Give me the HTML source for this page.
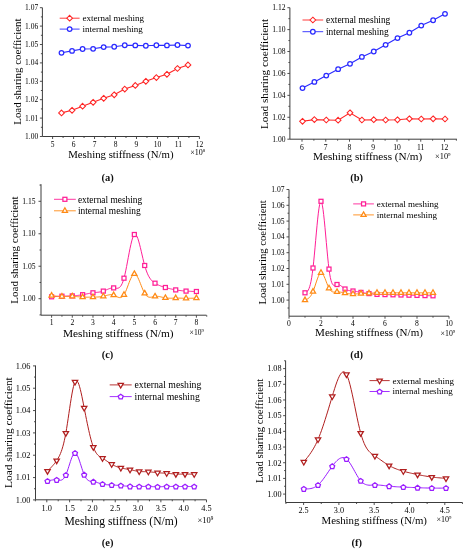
<!DOCTYPE html>
<html><head><meta charset="utf-8"><style>
html,body{margin:0;padding:0;background:#fff;}
body{width:468px;height:550px;overflow:hidden;}
svg{display:block;font-family:"Liberation Serif", serif;-webkit-font-smoothing:antialiased;will-change:transform;}
</style></head><body>
<svg width="468" height="550" viewBox="0 0 468 550">
<rect width="468" height="550" fill="#fff"/>
<path d="M42.4 7.7V136.5H199.4" fill="none" stroke="#3c3c3c" stroke-width="1"/>
<path d="M39.9 136.5H42.4M39.9 118.1H42.4M39.9 99.7H42.4M39.9 81.3H42.4M39.9 62.9H42.4M39.9 44.5H42.4M39.9 26.1H42.4M39.9 7.7H42.4M40.9 127.3H42.4M40.9 108.9H42.4M40.9 90.5H42.4M40.9 72.1H42.4M40.9 53.7H42.4M40.9 35.3H42.4M40.9 16.9H42.4M52.6 136.5V139M73.57 136.5V139M94.54 136.5V139M115.51 136.5V139M136.49 136.5V139M157.46 136.5V139M178.43 136.5V139M199.4 136.5V139M63.09 136.5V138M84.06 136.5V138M105.03 136.5V138M126 136.5V138M146.97 136.5V138M167.94 136.5V138M188.91 136.5V138" fill="none" stroke="#3c3c3c" stroke-width="0.9"/>
<text x="38.2" y="139.05" font-size="7.5" text-anchor="end" font-weight="normal" fill="#000" >1.00</text>
<text x="38.2" y="120.65" font-size="7.5" text-anchor="end" font-weight="normal" fill="#000" >1.01</text>
<text x="38.2" y="102.25" font-size="7.5" text-anchor="end" font-weight="normal" fill="#000" >1.02</text>
<text x="38.2" y="83.85" font-size="7.5" text-anchor="end" font-weight="normal" fill="#000" >1.03</text>
<text x="38.2" y="65.45" font-size="7.5" text-anchor="end" font-weight="normal" fill="#000" >1.04</text>
<text x="38.2" y="47.05" font-size="7.5" text-anchor="end" font-weight="normal" fill="#000" >1.05</text>
<text x="38.2" y="28.65" font-size="7.5" text-anchor="end" font-weight="normal" fill="#000" >1.06</text>
<text x="38.2" y="10.25" font-size="7.5" text-anchor="end" font-weight="normal" fill="#000" >1.07</text>
<text x="52.6" y="146.7" font-size="7.5" text-anchor="middle" font-weight="normal" fill="#000" >5</text>
<text x="73.57" y="146.7" font-size="7.5" text-anchor="middle" font-weight="normal" fill="#000" >6</text>
<text x="94.54" y="146.7" font-size="7.5" text-anchor="middle" font-weight="normal" fill="#000" >7</text>
<text x="115.51" y="146.7" font-size="7.5" text-anchor="middle" font-weight="normal" fill="#000" >8</text>
<text x="136.49" y="146.7" font-size="7.5" text-anchor="middle" font-weight="normal" fill="#000" >9</text>
<text x="157.46" y="146.7" font-size="7.5" text-anchor="middle" font-weight="normal" fill="#000" >10</text>
<text x="178.43" y="146.7" font-size="7.5" text-anchor="middle" font-weight="normal" fill="#000" >11</text>
<text x="199.4" y="146.7" font-size="7.5" text-anchor="middle" font-weight="normal" fill="#000" >12</text>
<path d="M61.5 112.9L72.04 110.3L82.58 106.2L93.12 102.3L103.67 98.3L114.21 94.8L124.75 89.1L135.29 85.4L145.83 81.3L156.38 77.6L166.92 74.3L177.46 68.5L188 64.9" fill="none" stroke="#ff2424" stroke-width="1.1"/>
<path d="M61.5 110.05L64.35 112.9L61.5 115.75L58.65 112.9Z" fill="#fff" stroke="#ff2424" stroke-width="1.05"/>
<path d="M72.04 107.45L74.89 110.3L72.04 113.15L69.19 110.3Z" fill="#fff" stroke="#ff2424" stroke-width="1.05"/>
<path d="M82.58 103.35L85.43 106.2L82.58 109.05L79.73 106.2Z" fill="#fff" stroke="#ff2424" stroke-width="1.05"/>
<path d="M93.12 99.45L95.97 102.3L93.12 105.15L90.28 102.3Z" fill="#fff" stroke="#ff2424" stroke-width="1.05"/>
<path d="M103.67 95.45L106.52 98.3L103.67 101.15L100.82 98.3Z" fill="#fff" stroke="#ff2424" stroke-width="1.05"/>
<path d="M114.21 91.95L117.06 94.8L114.21 97.65L111.36 94.8Z" fill="#fff" stroke="#ff2424" stroke-width="1.05"/>
<path d="M124.75 86.25L127.6 89.1L124.75 91.95L121.9 89.1Z" fill="#fff" stroke="#ff2424" stroke-width="1.05"/>
<path d="M135.29 82.55L138.14 85.4L135.29 88.25L132.44 85.4Z" fill="#fff" stroke="#ff2424" stroke-width="1.05"/>
<path d="M145.83 78.45L148.68 81.3L145.83 84.15L142.98 81.3Z" fill="#fff" stroke="#ff2424" stroke-width="1.05"/>
<path d="M156.38 74.75L159.22 77.6L156.38 80.45L153.53 77.6Z" fill="#fff" stroke="#ff2424" stroke-width="1.05"/>
<path d="M166.92 71.45L169.77 74.3L166.92 77.15L164.07 74.3Z" fill="#fff" stroke="#ff2424" stroke-width="1.05"/>
<path d="M177.46 65.65L180.31 68.5L177.46 71.35L174.61 68.5Z" fill="#fff" stroke="#ff2424" stroke-width="1.05"/>
<path d="M188 62.05L190.85 64.9L188 67.75L185.15 64.9Z" fill="#fff" stroke="#ff2424" stroke-width="1.05"/>
<path d="M61.5 52.8L72.04 50.9L82.58 49L93.12 48.8L103.67 47.1L114.21 46.75L124.75 45.2L135.29 45.4L145.83 45.7L156.38 45.2L166.92 45.4L177.46 45L188 45.6" fill="none" stroke="#2a2aff" stroke-width="1.1"/>
<circle cx="61.5" cy="52.8" r="2.3" fill="#fff" stroke="#2a2aff" stroke-width="1.25"/>
<circle cx="72.04" cy="50.9" r="2.3" fill="#fff" stroke="#2a2aff" stroke-width="1.25"/>
<circle cx="82.58" cy="49" r="2.3" fill="#fff" stroke="#2a2aff" stroke-width="1.25"/>
<circle cx="93.12" cy="48.8" r="2.3" fill="#fff" stroke="#2a2aff" stroke-width="1.25"/>
<circle cx="103.67" cy="47.1" r="2.3" fill="#fff" stroke="#2a2aff" stroke-width="1.25"/>
<circle cx="114.21" cy="46.75" r="2.3" fill="#fff" stroke="#2a2aff" stroke-width="1.25"/>
<circle cx="124.75" cy="45.2" r="2.3" fill="#fff" stroke="#2a2aff" stroke-width="1.25"/>
<circle cx="135.29" cy="45.4" r="2.3" fill="#fff" stroke="#2a2aff" stroke-width="1.25"/>
<circle cx="145.83" cy="45.7" r="2.3" fill="#fff" stroke="#2a2aff" stroke-width="1.25"/>
<circle cx="156.38" cy="45.2" r="2.3" fill="#fff" stroke="#2a2aff" stroke-width="1.25"/>
<circle cx="166.92" cy="45.4" r="2.3" fill="#fff" stroke="#2a2aff" stroke-width="1.25"/>
<circle cx="177.46" cy="45" r="2.3" fill="#fff" stroke="#2a2aff" stroke-width="1.25"/>
<circle cx="188" cy="45.6" r="2.3" fill="#fff" stroke="#2a2aff" stroke-width="1.25"/>
<path d="M59.7 18.2H79.6" stroke="#ff2424" stroke-width="0.9"/>
<path d="M69.65 15.35L72.5 18.2L69.65 21.05L66.8 18.2Z" fill="#fff" stroke="#ff2424" stroke-width="1.05"/>
<text x="82.4" y="21.3" font-size="9" text-anchor="start" font-weight="normal" fill="#000" >external meshing</text>
<path d="M59.7 29.1H79.6" stroke="#2a2aff" stroke-width="0.9"/>
<circle cx="69.65" cy="29.1" r="2.3" fill="#fff" stroke="#2a2aff" stroke-width="1.25"/>
<text x="82.4" y="32.4" font-size="9" text-anchor="start" font-weight="normal" fill="#000" >internal meshing</text>
<text x="120.85" y="157.6" font-size="10.8" text-anchor="middle" font-weight="normal" fill="#000" >Meshing stiffness (N/m)</text>
<text transform="translate(20.7 71.6) rotate(-90)" x="0" y="0" font-size="10.9" text-anchor="middle" fill="#000">Load sharing coefficient</text>
<text x="190.3" y="154.6" font-size="8.0" fill="#000">×10<tspan font-size="4.8" dy="-2.88">8</tspan></text>
<text x="107.65" y="181" font-size="10.5" text-anchor="middle" font-weight="bold" fill="#111" >(a)</text>
<path d="M289.9 7.7V139.2H456.9" fill="none" stroke="#3c3c3c" stroke-width="1"/>
<path d="M287.4 139.2H289.9M287.4 117.28H289.9M287.4 95.37H289.9M287.4 73.45H289.9M287.4 51.53H289.9M287.4 29.62H289.9M287.4 7.7H289.9M288.4 128.24H289.9M288.4 106.32H289.9M288.4 84.41H289.9M288.4 62.49H289.9M288.4 40.57H289.9M288.4 18.66H289.9M302 139.2V141.7M325.75 139.2V141.7M349.5 139.2V141.7M373.25 139.2V141.7M397 139.2V141.7M420.75 139.2V141.7M444.5 139.2V141.7M313.88 139.2V140.7M337.62 139.2V140.7M361.38 139.2V140.7M385.12 139.2V140.7M408.88 139.2V140.7M432.62 139.2V140.7M456.38 139.2V140.7" fill="none" stroke="#3c3c3c" stroke-width="0.9"/>
<text x="285.5" y="141.78" font-size="7.6" text-anchor="end" font-weight="normal" fill="#000" >1.00</text>
<text x="285.5" y="119.87" font-size="7.6" text-anchor="end" font-weight="normal" fill="#000" >1.02</text>
<text x="285.5" y="97.95" font-size="7.6" text-anchor="end" font-weight="normal" fill="#000" >1.04</text>
<text x="285.5" y="76.03" font-size="7.6" text-anchor="end" font-weight="normal" fill="#000" >1.06</text>
<text x="285.5" y="54.12" font-size="7.6" text-anchor="end" font-weight="normal" fill="#000" >1.08</text>
<text x="285.5" y="32.2" font-size="7.6" text-anchor="end" font-weight="normal" fill="#000" >1.10</text>
<text x="285.5" y="10.28" font-size="7.6" text-anchor="end" font-weight="normal" fill="#000" >1.12</text>
<text x="302" y="149.9" font-size="7.6" text-anchor="middle" font-weight="normal" fill="#000" >6</text>
<text x="325.75" y="149.9" font-size="7.6" text-anchor="middle" font-weight="normal" fill="#000" >7</text>
<text x="349.5" y="149.9" font-size="7.6" text-anchor="middle" font-weight="normal" fill="#000" >8</text>
<text x="373.25" y="149.9" font-size="7.6" text-anchor="middle" font-weight="normal" fill="#000" >9</text>
<text x="397" y="149.9" font-size="7.6" text-anchor="middle" font-weight="normal" fill="#000" >10</text>
<text x="420.75" y="149.9" font-size="7.6" text-anchor="middle" font-weight="normal" fill="#000" >11</text>
<text x="444.5" y="149.9" font-size="7.6" text-anchor="middle" font-weight="normal" fill="#000" >12</text>
<path d="M302.5 121.3L314.38 119.6L326.25 120L338.12 120.2L350 112.8L361.88 120L373.75 119.7L385.62 120L397.5 119.8L409.38 118.8L421.25 119L433.12 118.8L445 119" fill="none" stroke="#ff2424" stroke-width="1.1"/>
<path d="M302.5 118.45L305.35 121.3L302.5 124.15L299.65 121.3Z" fill="#fff" stroke="#ff2424" stroke-width="1.05"/>
<path d="M314.38 116.75L317.23 119.6L314.38 122.45L311.52 119.6Z" fill="#fff" stroke="#ff2424" stroke-width="1.05"/>
<path d="M326.25 117.15L329.1 120L326.25 122.85L323.4 120Z" fill="#fff" stroke="#ff2424" stroke-width="1.05"/>
<path d="M338.12 117.35L340.98 120.2L338.12 123.05L335.27 120.2Z" fill="#fff" stroke="#ff2424" stroke-width="1.05"/>
<path d="M350 109.95L352.85 112.8L350 115.65L347.15 112.8Z" fill="#fff" stroke="#ff2424" stroke-width="1.05"/>
<path d="M361.88 117.15L364.73 120L361.88 122.85L359.02 120Z" fill="#fff" stroke="#ff2424" stroke-width="1.05"/>
<path d="M373.75 116.85L376.6 119.7L373.75 122.55L370.9 119.7Z" fill="#fff" stroke="#ff2424" stroke-width="1.05"/>
<path d="M385.62 117.15L388.48 120L385.62 122.85L382.77 120Z" fill="#fff" stroke="#ff2424" stroke-width="1.05"/>
<path d="M397.5 116.95L400.35 119.8L397.5 122.65L394.65 119.8Z" fill="#fff" stroke="#ff2424" stroke-width="1.05"/>
<path d="M409.38 115.95L412.23 118.8L409.38 121.65L406.52 118.8Z" fill="#fff" stroke="#ff2424" stroke-width="1.05"/>
<path d="M421.25 116.15L424.1 119L421.25 121.85L418.4 119Z" fill="#fff" stroke="#ff2424" stroke-width="1.05"/>
<path d="M433.12 115.95L435.98 118.8L433.12 121.65L430.27 118.8Z" fill="#fff" stroke="#ff2424" stroke-width="1.05"/>
<path d="M445 116.15L447.85 119L445 121.85L442.15 119Z" fill="#fff" stroke="#ff2424" stroke-width="1.05"/>
<path d="M302.5 88.1L314.38 81.9L326.25 75.6L338.12 69.2L350 63.8L361.88 56.9L373.75 51.5L385.62 44.8L397.5 38.1L409.38 32.7L421.25 25.6L433.12 20.2L445 13.8" fill="none" stroke="#2a2aff" stroke-width="1.1"/>
<circle cx="302.5" cy="88.1" r="2.3" fill="#fff" stroke="#2a2aff" stroke-width="1.25"/>
<circle cx="314.38" cy="81.9" r="2.3" fill="#fff" stroke="#2a2aff" stroke-width="1.25"/>
<circle cx="326.25" cy="75.6" r="2.3" fill="#fff" stroke="#2a2aff" stroke-width="1.25"/>
<circle cx="338.12" cy="69.2" r="2.3" fill="#fff" stroke="#2a2aff" stroke-width="1.25"/>
<circle cx="350" cy="63.8" r="2.3" fill="#fff" stroke="#2a2aff" stroke-width="1.25"/>
<circle cx="361.88" cy="56.9" r="2.3" fill="#fff" stroke="#2a2aff" stroke-width="1.25"/>
<circle cx="373.75" cy="51.5" r="2.3" fill="#fff" stroke="#2a2aff" stroke-width="1.25"/>
<circle cx="385.62" cy="44.8" r="2.3" fill="#fff" stroke="#2a2aff" stroke-width="1.25"/>
<circle cx="397.5" cy="38.1" r="2.3" fill="#fff" stroke="#2a2aff" stroke-width="1.25"/>
<circle cx="409.38" cy="32.7" r="2.3" fill="#fff" stroke="#2a2aff" stroke-width="1.25"/>
<circle cx="421.25" cy="25.6" r="2.3" fill="#fff" stroke="#2a2aff" stroke-width="1.25"/>
<circle cx="433.12" cy="20.2" r="2.3" fill="#fff" stroke="#2a2aff" stroke-width="1.25"/>
<circle cx="445" cy="13.8" r="2.3" fill="#fff" stroke="#2a2aff" stroke-width="1.25"/>
<path d="M302.5 20H323.2" stroke="#ff2424" stroke-width="0.9"/>
<path d="M312.85 17.15L315.7 20L312.85 22.85L310 20Z" fill="#fff" stroke="#ff2424" stroke-width="1.05"/>
<text x="326" y="23.3" font-size="9.4" text-anchor="start" font-weight="normal" fill="#000" >external meshing</text>
<path d="M302.5 31.7H323.2" stroke="#2a2aff" stroke-width="0.9"/>
<circle cx="312.85" cy="31.7" r="2.3" fill="#fff" stroke="#2a2aff" stroke-width="1.25"/>
<text x="326" y="34.8" font-size="9.4" text-anchor="start" font-weight="normal" fill="#000" >internal meshing</text>
<text x="367.6" y="160.1" font-size="11.2" text-anchor="middle" font-weight="normal" fill="#000" >Meshing stiffness (N/m)</text>
<text transform="translate(267.7 74) rotate(-90)" x="0" y="0" font-size="11.3" text-anchor="middle" fill="#000">Load sharing coefficient</text>
<text x="435.1" y="158.9" font-size="8.3" fill="#000">×10<tspan font-size="4.98" dy="-2.99">9</tspan></text>
<text x="356.7" y="181.1" font-size="10.5" text-anchor="middle" font-weight="bold" fill="#111" >(b)</text>
<path d="M41 184.2V315.2H206.5" fill="none" stroke="#3c3c3c" stroke-width="1"/>
<path d="M38.5 298.7H41M38.5 266.23H41M38.5 233.77H41M38.5 201.3H41M39.5 314.93H41M39.5 282.47H41M39.5 250H41M39.5 217.53H41M39.5 185.07H41M51.6 315.2V317.7M72.29 315.2V317.7M92.97 315.2V317.7M113.66 315.2V317.7M134.34 315.2V317.7M155.03 315.2V317.7M175.71 315.2V317.7M196.4 315.2V317.7M61.94 315.2V316.7M82.63 315.2V316.7M103.31 315.2V316.7M124 315.2V316.7M144.69 315.2V316.7M165.37 315.2V316.7M186.06 315.2V316.7M206.74 315.2V316.7" fill="none" stroke="#3c3c3c" stroke-width="0.9"/>
<text x="35.5" y="301.28" font-size="7.6" text-anchor="end" font-weight="normal" fill="#000" >1.00</text>
<text x="35.5" y="268.82" font-size="7.6" text-anchor="end" font-weight="normal" fill="#000" >1.05</text>
<text x="35.5" y="236.35" font-size="7.6" text-anchor="end" font-weight="normal" fill="#000" >1.10</text>
<text x="35.5" y="203.88" font-size="7.6" text-anchor="end" font-weight="normal" fill="#000" >1.15</text>
<text x="51.6" y="325.4" font-size="7.6" text-anchor="middle" font-weight="normal" fill="#000" >1</text>
<text x="72.29" y="325.4" font-size="7.6" text-anchor="middle" font-weight="normal" fill="#000" >2</text>
<text x="92.97" y="325.4" font-size="7.6" text-anchor="middle" font-weight="normal" fill="#000" >3</text>
<text x="113.66" y="325.4" font-size="7.6" text-anchor="middle" font-weight="normal" fill="#000" >4</text>
<text x="134.34" y="325.4" font-size="7.6" text-anchor="middle" font-weight="normal" fill="#000" >5</text>
<text x="155.03" y="325.4" font-size="7.6" text-anchor="middle" font-weight="normal" fill="#000" >6</text>
<text x="175.71" y="325.4" font-size="7.6" text-anchor="middle" font-weight="normal" fill="#000" >7</text>
<text x="196.4" y="325.4" font-size="7.6" text-anchor="middle" font-weight="normal" fill="#000" >8</text>
<path d="M51.6 296.8L52.46 296.74L53.32 296.68L54.19 296.62L55.05 296.56L55.91 296.51L56.77 296.45L57.63 296.4L58.5 296.35L59.36 296.31L60.22 296.27L61.08 296.23L61.94 296.2L62.8 296.17L63.67 296.15L64.53 296.13L65.39 296.11L66.25 296.1L67.11 296.08L67.98 296.06L68.84 296.04L69.7 296.01L70.56 295.98L71.42 295.94L72.29 295.9L73.15 295.85L74.01 295.79L74.87 295.72L75.73 295.64L76.6 295.55L77.46 295.46L78.32 295.35L79.18 295.24L80.04 295.12L80.9 294.99L81.77 294.85L82.63 294.7L83.49 294.54L84.35 294.38L85.21 294.21L86.08 294.04L86.94 293.86L87.8 293.69L88.66 293.52L89.52 293.36L90.39 293.2L91.25 293.06L92.11 292.92L92.97 292.8L93.83 292.69L94.7 292.6L95.56 292.51L96.42 292.42L97.28 292.32L98.14 292.22L99 292.1L99.87 291.96L100.73 291.79L101.59 291.6L102.45 291.37L103.31 291.1L104.18 290.79L105.04 290.44L105.9 290.08L106.76 289.7L107.62 289.33L108.49 288.98L109.35 288.65L110.21 288.37L111.07 288.14L111.93 287.98L112.8 287.89L113.66 287.9L114.52 288L115.38 288.14L116.24 288.25L117.1 288.29L117.97 288.18L118.83 287.87L119.69 287.29L120.55 286.38L121.41 285.07L122.28 283.32L123.14 281.05L124 278.2L124.86 274.75L125.72 270.8L126.59 266.49L127.45 261.95L128.31 257.34L129.17 252.79L130.03 248.43L130.9 244.41L131.76 240.87L132.62 237.94L133.48 235.77L134.34 234.5L135.2 234.22L136.07 234.85L136.93 236.28L137.79 238.39L138.65 241.06L139.51 244.17L140.38 247.61L141.24 251.25L142.1 254.98L142.96 258.67L143.82 262.22L144.69 265.5L145.55 268.42L146.41 270.97L147.27 273.2L148.13 275.13L149 276.79L149.86 278.2L150.72 279.4L151.58 280.42L152.44 281.27L153.3 282.01L154.17 282.64L155.03 283.2L155.89 283.72L156.75 284.2L157.61 284.64L158.48 285.05L159.34 285.43L160.2 285.78L161.06 286.11L161.92 286.42L162.79 286.71L163.65 286.99L164.51 287.25L165.37 287.5L166.23 287.74L167.1 287.98L167.96 288.21L168.82 288.43L169.68 288.64L170.54 288.85L171.4 289.04L172.27 289.23L173.13 289.41L173.99 289.58L174.85 289.75L175.71 289.9L176.58 290.04L177.44 290.18L178.3 290.31L179.16 290.42L180.02 290.53L180.89 290.64L181.75 290.73L182.61 290.82L183.47 290.9L184.33 290.97L185.2 291.04L186.06 291.1L186.92 291.15L187.78 291.2L188.64 291.25L189.5 291.29L190.37 291.32L191.23 291.35L192.09 291.38L192.95 291.41L193.81 291.43L194.68 291.46L195.54 291.48L196.4 291.5" fill="none" stroke="#ff1f96" stroke-width="1.0" stroke-linejoin="round"/>
<rect x="49.6" y="294.8" width="4" height="4" fill="#fff" stroke="#ff1f96" stroke-width="1.25"/>
<rect x="59.94" y="294.2" width="4" height="4" fill="#fff" stroke="#ff1f96" stroke-width="1.25"/>
<rect x="70.29" y="293.9" width="4" height="4" fill="#fff" stroke="#ff1f96" stroke-width="1.25"/>
<rect x="80.63" y="292.7" width="4" height="4" fill="#fff" stroke="#ff1f96" stroke-width="1.25"/>
<rect x="90.97" y="290.8" width="4" height="4" fill="#fff" stroke="#ff1f96" stroke-width="1.25"/>
<rect x="101.31" y="289.1" width="4" height="4" fill="#fff" stroke="#ff1f96" stroke-width="1.25"/>
<rect x="111.66" y="285.9" width="4" height="4" fill="#fff" stroke="#ff1f96" stroke-width="1.25"/>
<rect x="122" y="276.2" width="4" height="4" fill="#fff" stroke="#ff1f96" stroke-width="1.25"/>
<rect x="132.34" y="232.5" width="4" height="4" fill="#fff" stroke="#ff1f96" stroke-width="1.25"/>
<rect x="142.69" y="263.5" width="4" height="4" fill="#fff" stroke="#ff1f96" stroke-width="1.25"/>
<rect x="153.03" y="281.2" width="4" height="4" fill="#fff" stroke="#ff1f96" stroke-width="1.25"/>
<rect x="163.37" y="285.5" width="4" height="4" fill="#fff" stroke="#ff1f96" stroke-width="1.25"/>
<rect x="173.71" y="287.9" width="4" height="4" fill="#fff" stroke="#ff1f96" stroke-width="1.25"/>
<rect x="184.06" y="289.1" width="4" height="4" fill="#fff" stroke="#ff1f96" stroke-width="1.25"/>
<rect x="194.4" y="289.5" width="4" height="4" fill="#fff" stroke="#ff1f96" stroke-width="1.25"/>
<path d="M51.6 295.6L52.46 295.71L53.32 295.81L54.19 295.91L55.05 296.01L55.91 296.11L56.77 296.19L57.63 296.27L58.5 296.34L59.36 296.4L60.22 296.45L61.08 296.48L61.94 296.5L62.8 296.5L63.67 296.49L64.53 296.48L65.39 296.45L66.25 296.42L67.11 296.38L67.98 296.35L68.84 296.32L69.7 296.3L70.56 296.29L71.42 296.29L72.29 296.3L73.15 296.33L74.01 296.38L74.87 296.44L75.73 296.51L76.6 296.58L77.46 296.66L78.32 296.75L79.18 296.83L80.04 296.91L80.9 296.98L81.77 297.05L82.63 297.1L83.49 297.14L84.35 297.17L85.21 297.19L86.08 297.2L86.94 297.2L87.8 297.19L88.66 297.18L89.52 297.16L90.39 297.15L91.25 297.13L92.11 297.11L92.97 297.1L93.83 297.09L94.7 297.08L95.56 297.06L96.42 297.04L97.28 297.02L98.14 296.98L99 296.92L99.87 296.85L100.73 296.75L101.59 296.63L102.45 296.48L103.31 296.3L104.18 296.09L105.04 295.86L105.9 295.61L106.76 295.37L107.62 295.15L108.49 294.96L109.35 294.81L110.21 294.71L111.07 294.67L111.93 294.72L112.8 294.86L113.66 295.1L114.52 295.45L115.38 295.87L116.24 296.33L117.1 296.77L117.97 297.16L118.83 297.46L119.69 297.61L120.55 297.58L121.41 297.33L122.28 296.81L123.14 295.98L124 294.8L124.86 293.24L125.72 291.38L126.59 289.28L127.45 287.04L128.31 284.74L129.17 282.46L130.03 280.28L130.9 278.3L131.76 276.58L132.62 275.22L133.48 274.3L134.34 273.9L135.2 274.08L136.07 274.78L136.93 275.94L137.79 277.46L138.65 279.27L139.51 281.29L140.38 283.44L141.24 285.64L142.1 287.82L142.96 289.89L143.82 291.78L144.69 293.4L145.55 294.7L146.41 295.69L147.27 296.41L148.13 296.89L149 297.16L149.86 297.27L150.72 297.25L151.58 297.14L152.44 296.96L153.3 296.75L154.17 296.55L155.03 296.4L155.89 296.32L156.75 296.31L157.61 296.35L158.48 296.45L159.34 296.59L160.2 296.76L161.06 296.95L161.92 297.16L162.79 297.36L163.65 297.56L164.51 297.74L165.37 297.9L166.23 298.02L167.1 298.11L167.96 298.17L168.82 298.21L169.68 298.23L170.54 298.23L171.4 298.22L172.27 298.19L173.13 298.17L173.99 298.14L174.85 298.12L175.71 298.1L176.58 298.09L177.44 298.09L178.3 298.1L179.16 298.12L180.02 298.14L180.89 298.17L181.75 298.19L182.61 298.22L183.47 298.24L184.33 298.27L185.2 298.29L186.06 298.3L186.92 298.31L187.78 298.31L188.64 298.3L189.5 298.29L190.37 298.28L191.23 298.26L192.09 298.24L192.95 298.22L193.81 298.19L194.68 298.16L195.54 298.13L196.4 298.1" fill="none" stroke="#ff8a14" stroke-width="1.0" stroke-linejoin="round"/>
<path d="M51.6 292.6L54.2 297.15L49 297.15Z" fill="#fff" stroke="#ff8a14" stroke-width="1.25" stroke-linejoin="miter"/>
<path d="M61.94 293.5L64.54 298.05L59.34 298.05Z" fill="#fff" stroke="#ff8a14" stroke-width="1.25" stroke-linejoin="miter"/>
<path d="M72.29 293.3L74.89 297.85L69.69 297.85Z" fill="#fff" stroke="#ff8a14" stroke-width="1.25" stroke-linejoin="miter"/>
<path d="M82.63 294.1L85.23 298.65L80.03 298.65Z" fill="#fff" stroke="#ff8a14" stroke-width="1.25" stroke-linejoin="miter"/>
<path d="M92.97 294.1L95.57 298.65L90.37 298.65Z" fill="#fff" stroke="#ff8a14" stroke-width="1.25" stroke-linejoin="miter"/>
<path d="M103.31 293.3L105.91 297.85L100.71 297.85Z" fill="#fff" stroke="#ff8a14" stroke-width="1.25" stroke-linejoin="miter"/>
<path d="M113.66 292.1L116.26 296.65L111.06 296.65Z" fill="#fff" stroke="#ff8a14" stroke-width="1.25" stroke-linejoin="miter"/>
<path d="M124 291.8L126.6 296.35L121.4 296.35Z" fill="#fff" stroke="#ff8a14" stroke-width="1.25" stroke-linejoin="miter"/>
<path d="M134.34 270.9L136.94 275.45L131.74 275.45Z" fill="#fff" stroke="#ff8a14" stroke-width="1.25" stroke-linejoin="miter"/>
<path d="M144.69 290.4L147.29 294.95L142.09 294.95Z" fill="#fff" stroke="#ff8a14" stroke-width="1.25" stroke-linejoin="miter"/>
<path d="M155.03 293.4L157.63 297.95L152.43 297.95Z" fill="#fff" stroke="#ff8a14" stroke-width="1.25" stroke-linejoin="miter"/>
<path d="M165.37 294.9L167.97 299.45L162.77 299.45Z" fill="#fff" stroke="#ff8a14" stroke-width="1.25" stroke-linejoin="miter"/>
<path d="M175.71 295.1L178.31 299.65L173.11 299.65Z" fill="#fff" stroke="#ff8a14" stroke-width="1.25" stroke-linejoin="miter"/>
<path d="M186.06 295.3L188.66 299.85L183.46 299.85Z" fill="#fff" stroke="#ff8a14" stroke-width="1.25" stroke-linejoin="miter"/>
<path d="M196.4 295.1L199 299.65L193.8 299.65Z" fill="#fff" stroke="#ff8a14" stroke-width="1.25" stroke-linejoin="miter"/>
<path d="M54 199.3H75.8" stroke="#ff1f96" stroke-width="0.9"/>
<rect x="62.9" y="197.3" width="4" height="4" fill="#fff" stroke="#ff1f96" stroke-width="1.25"/>
<text x="77.9" y="202.5" font-size="9.4" text-anchor="start" font-weight="normal" fill="#000" >external meshing</text>
<path d="M54 210.8H75.8" stroke="#ff8a14" stroke-width="0.9"/>
<path d="M64.9 207.8L67.5 212.35L62.3 212.35Z" fill="#fff" stroke="#ff8a14" stroke-width="1.25" stroke-linejoin="miter"/>
<text x="77.9" y="214" font-size="9.4" text-anchor="start" font-weight="normal" fill="#000" >internal meshing</text>
<text x="118.25" y="336.7" font-size="11.35" text-anchor="middle" font-weight="normal" fill="#000" >Meshing stiffness (N/m)</text>
<text transform="translate(17.7 250) rotate(-90)" x="0" y="0" font-size="11.0" text-anchor="middle" fill="#000">Load sharing coefficient</text>
<text x="189.6" y="334.7" font-size="7.6" fill="#000">×10<tspan font-size="4.56" dy="-2.74">9</tspan></text>
<text x="107.5" y="357.6" font-size="10.5" text-anchor="middle" font-weight="bold" fill="#111" >(c)</text>
<path d="M289 189.5V316.2H449" fill="none" stroke="#3c3c3c" stroke-width="1"/>
<path d="M286.5 300.1H289M286.5 284.3H289M286.5 268.5H289M286.5 252.7H289M286.5 236.9H289M286.5 221.1H289M286.5 205.3H289M286.5 189.5H289M287.5 308H289M287.5 292.2H289M287.5 276.4H289M287.5 260.6H289M287.5 244.8H289M287.5 229H289M287.5 213.2H289M287.5 197.4H289M289 316.2V318.7M321 316.2V318.7M353 316.2V318.7M385 316.2V318.7M417 316.2V318.7M449 316.2V318.7M305 316.2V317.7M337 316.2V317.7M369 316.2V317.7M401 316.2V317.7M433 316.2V317.7" fill="none" stroke="#3c3c3c" stroke-width="0.9"/>
<text x="284.6" y="302.68" font-size="7.6" text-anchor="end" font-weight="normal" fill="#000" >1.00</text>
<text x="284.6" y="286.88" font-size="7.6" text-anchor="end" font-weight="normal" fill="#000" >1.01</text>
<text x="284.6" y="271.08" font-size="7.6" text-anchor="end" font-weight="normal" fill="#000" >1.02</text>
<text x="284.6" y="255.28" font-size="7.6" text-anchor="end" font-weight="normal" fill="#000" >1.03</text>
<text x="284.6" y="239.48" font-size="7.6" text-anchor="end" font-weight="normal" fill="#000" >1.04</text>
<text x="284.6" y="223.68" font-size="7.6" text-anchor="end" font-weight="normal" fill="#000" >1.05</text>
<text x="284.6" y="207.88" font-size="7.6" text-anchor="end" font-weight="normal" fill="#000" >1.06</text>
<text x="284.6" y="192.08" font-size="7.6" text-anchor="end" font-weight="normal" fill="#000" >1.07</text>
<text x="289" y="325.9" font-size="7.6" text-anchor="middle" font-weight="normal" fill="#000" >0</text>
<text x="321" y="325.9" font-size="7.6" text-anchor="middle" font-weight="normal" fill="#000" >2</text>
<text x="353" y="325.9" font-size="7.6" text-anchor="middle" font-weight="normal" fill="#000" >4</text>
<text x="385" y="325.9" font-size="7.6" text-anchor="middle" font-weight="normal" fill="#000" >6</text>
<text x="417" y="325.9" font-size="7.6" text-anchor="middle" font-weight="normal" fill="#000" >8</text>
<text x="449" y="325.9" font-size="7.6" text-anchor="middle" font-weight="normal" fill="#000" >10</text>
<path d="M305 292.8L305.67 292.54L306.33 292.21L307 291.72L307.67 291L308.33 289.99L309 288.59L309.67 286.74L310.33 284.36L311 281.37L311.67 277.69L312.33 273.26L313 268L313.67 261.88L314.33 255.08L315 247.84L315.67 240.39L316.33 232.96L317 225.79L317.67 219.12L318.33 213.17L319 208.18L319.67 204.38L320.33 202.01L321 201.3L321.67 202.4L322.33 205.15L323 209.31L323.67 214.62L324.33 220.83L325 227.71L325.67 235.01L326.33 242.47L327 249.86L327.67 256.92L328.33 263.42L329 269.1L329.67 273.78L330.33 277.49L331 280.36L331.67 282.46L332.33 283.92L333 284.83L333.67 285.29L334.33 285.41L335 285.29L335.67 285.02L336.33 284.73L337 284.5L337.67 284.42L338.33 284.49L339 284.69L339.67 285L340.33 285.4L341 285.87L341.67 286.38L342.33 286.93L343 287.48L343.67 288.03L344.33 288.54L345 289L345.67 289.39L346.33 289.72L347 289.99L347.67 290.21L348.33 290.39L349 290.53L349.67 290.64L350.33 290.73L351 290.8L351.67 290.87L352.33 290.93L353 291L353.67 291.08L354.33 291.17L355 291.28L355.67 291.39L356.33 291.51L357 291.63L357.67 291.76L358.33 291.89L359 292.02L359.67 292.15L360.33 292.28L361 292.4L361.67 292.52L362.33 292.64L363 292.75L363.67 292.85L364.33 292.96L365 293.06L365.67 293.15L366.33 293.25L367 293.34L367.67 293.43L368.33 293.51L369 293.6L369.67 293.68L370.33 293.77L371 293.85L371.67 293.92L372.33 294L373 294.07L373.67 294.14L374.33 294.2L375 294.26L375.67 294.31L376.33 294.36L377 294.4L377.67 294.44L378.33 294.47L379 294.49L379.67 294.51L380.33 294.53L381 294.54L381.67 294.55L382.33 294.56L383 294.57L383.67 294.58L384.33 294.59L385 294.6L385.67 294.61L386.33 294.62L387 294.64L387.67 294.65L388.33 294.67L389 294.69L389.67 294.71L390.33 294.73L391 294.74L391.67 294.76L392.33 294.78L393 294.8L393.67 294.82L394.33 294.84L395 294.85L395.67 294.87L396.33 294.89L397 294.9L397.67 294.92L398.33 294.94L399 294.95L399.67 294.97L400.33 294.98L401 295L401.67 295.02L402.33 295.03L403 295.05L403.67 295.07L404.33 295.08L405 295.1L405.67 295.12L406.33 295.13L407 295.15L407.67 295.17L408.33 295.18L409 295.2L409.67 295.22L410.33 295.23L411 295.25L411.67 295.27L412.33 295.28L413 295.3L413.67 295.32L414.33 295.33L415 295.35L415.67 295.37L416.33 295.38L417 295.4L417.67 295.42L418.33 295.43L419 295.45L419.67 295.47L420.33 295.48L421 295.5L421.67 295.52L422.33 295.53L423 295.55L423.67 295.57L424.33 295.58L425 295.6L425.67 295.62L426.33 295.63L427 295.65L427.67 295.67L428.33 295.68L429 295.7L429.67 295.72L430.33 295.73L431 295.75L431.67 295.77L432.33 295.78L433 295.8" fill="none" stroke="#ff1f96" stroke-width="1.0" stroke-linejoin="round"/>
<rect x="303" y="290.8" width="4" height="4" fill="#fff" stroke="#ff1f96" stroke-width="1.25"/>
<rect x="311" y="266" width="4" height="4" fill="#fff" stroke="#ff1f96" stroke-width="1.25"/>
<rect x="319" y="199.3" width="4" height="4" fill="#fff" stroke="#ff1f96" stroke-width="1.25"/>
<rect x="327" y="267.1" width="4" height="4" fill="#fff" stroke="#ff1f96" stroke-width="1.25"/>
<rect x="335" y="282.5" width="4" height="4" fill="#fff" stroke="#ff1f96" stroke-width="1.25"/>
<rect x="343" y="287" width="4" height="4" fill="#fff" stroke="#ff1f96" stroke-width="1.25"/>
<rect x="351" y="289" width="4" height="4" fill="#fff" stroke="#ff1f96" stroke-width="1.25"/>
<rect x="359" y="290.4" width="4" height="4" fill="#fff" stroke="#ff1f96" stroke-width="1.25"/>
<rect x="367" y="291.6" width="4" height="4" fill="#fff" stroke="#ff1f96" stroke-width="1.25"/>
<rect x="375" y="292.4" width="4" height="4" fill="#fff" stroke="#ff1f96" stroke-width="1.25"/>
<rect x="383" y="292.6" width="4" height="4" fill="#fff" stroke="#ff1f96" stroke-width="1.25"/>
<rect x="391" y="292.8" width="4" height="4" fill="#fff" stroke="#ff1f96" stroke-width="1.25"/>
<rect x="399" y="293" width="4" height="4" fill="#fff" stroke="#ff1f96" stroke-width="1.25"/>
<rect x="407" y="293.2" width="4" height="4" fill="#fff" stroke="#ff1f96" stroke-width="1.25"/>
<rect x="415" y="293.4" width="4" height="4" fill="#fff" stroke="#ff1f96" stroke-width="1.25"/>
<rect x="423" y="293.6" width="4" height="4" fill="#fff" stroke="#ff1f96" stroke-width="1.25"/>
<rect x="431" y="293.8" width="4" height="4" fill="#fff" stroke="#ff1f96" stroke-width="1.25"/>
<path d="M305 300.1L305.67 299.84L306.33 299.56L307 299.25L307.67 298.87L308.33 298.43L309 297.89L309.67 297.23L310.33 296.44L311 295.51L311.67 294.4L312.33 293.1L313 291.6L313.67 289.88L314.33 288L315 286.01L315.67 283.96L316.33 281.93L317 279.96L317.67 278.11L318.33 276.45L319 275.03L319.67 273.91L320.33 273.15L321 272.8L321.67 272.91L322.33 273.44L323 274.32L323.67 275.49L324.33 276.9L325 278.48L325.67 280.17L326.33 281.91L327 283.65L327.67 285.32L328.33 286.85L329 288.2L329.67 289.31L330.33 290.2L331 290.88L331.67 291.38L332.33 291.73L333 291.95L333.67 292.07L334.33 292.1L335 292.08L335.67 292.02L336.33 291.95L337 291.9L337.67 291.88L338.33 291.9L339 291.95L339.67 292.02L340.33 292.12L341 292.24L341.67 292.37L342.33 292.51L343 292.66L343.67 292.81L344.33 292.96L345 293.1L345.67 293.23L346.33 293.36L347 293.47L347.67 293.58L348.33 293.67L349 293.75L349.67 293.82L350.33 293.88L351 293.93L351.67 293.96L352.33 293.99L353 294L353.67 294L354.33 293.99L355 293.97L355.67 293.94L356.33 293.9L357 293.86L357.67 293.82L358.33 293.77L359 293.73L359.67 293.68L360.33 293.64L361 293.6L361.67 293.57L362.33 293.54L363 293.51L363.67 293.49L364.33 293.47L365 293.45L365.67 293.43L366.33 293.41L367 293.39L367.67 293.36L368.33 293.33L369 293.3L369.67 293.26L370.33 293.22L371 293.18L371.67 293.13L372.33 293.08L373 293.03L373.67 292.99L374.33 292.94L375 292.9L375.67 292.86L376.33 292.83L377 292.8L377.67 292.78L378.33 292.76L379 292.76L379.67 292.75L380.33 292.75L381 292.75L381.67 292.76L382.33 292.77L383 292.78L383.67 292.78L384.33 292.79L385 292.8L385.67 292.81L386.33 292.81L387 292.81L387.67 292.81L388.33 292.81L389 292.81L389.67 292.81L390.33 292.81L391 292.81L391.67 292.8L392.33 292.8L393 292.8L393.67 292.8L394.33 292.8L395 292.8L395.67 292.8L396.33 292.8L397 292.8L397.67 292.8L398.33 292.8L399 292.8L399.67 292.8L400.33 292.8L401 292.8L401.67 292.8L402.33 292.8L403 292.8L403.67 292.8L404.33 292.8L405 292.8L405.67 292.8L406.33 292.8L407 292.8L407.67 292.8L408.33 292.8L409 292.8L409.67 292.8L410.33 292.8L411 292.8L411.67 292.8L412.33 292.8L413 292.8L413.67 292.8L414.33 292.8L415 292.8L415.67 292.8L416.33 292.8L417 292.8L417.67 292.8L418.33 292.8L419 292.8L419.67 292.8L420.33 292.8L421 292.8L421.67 292.8L422.33 292.8L423 292.8L423.67 292.8L424.33 292.8L425 292.8L425.67 292.8L426.33 292.8L427 292.8L427.67 292.8L428.33 292.8L429 292.8L429.67 292.8L430.33 292.8L431 292.8L431.67 292.8L432.33 292.8L433 292.8" fill="none" stroke="#ff8a14" stroke-width="1.0" stroke-linejoin="round"/>
<path d="M305 297.1L307.6 301.65L302.4 301.65Z" fill="#fff" stroke="#ff8a14" stroke-width="1.25" stroke-linejoin="miter"/>
<path d="M313 288.6L315.6 293.15L310.4 293.15Z" fill="#fff" stroke="#ff8a14" stroke-width="1.25" stroke-linejoin="miter"/>
<path d="M321 269.8L323.6 274.35L318.4 274.35Z" fill="#fff" stroke="#ff8a14" stroke-width="1.25" stroke-linejoin="miter"/>
<path d="M329 285.2L331.6 289.75L326.4 289.75Z" fill="#fff" stroke="#ff8a14" stroke-width="1.25" stroke-linejoin="miter"/>
<path d="M337 288.9L339.6 293.45L334.4 293.45Z" fill="#fff" stroke="#ff8a14" stroke-width="1.25" stroke-linejoin="miter"/>
<path d="M345 290.1L347.6 294.65L342.4 294.65Z" fill="#fff" stroke="#ff8a14" stroke-width="1.25" stroke-linejoin="miter"/>
<path d="M353 291L355.6 295.55L350.4 295.55Z" fill="#fff" stroke="#ff8a14" stroke-width="1.25" stroke-linejoin="miter"/>
<path d="M361 290.6L363.6 295.15L358.4 295.15Z" fill="#fff" stroke="#ff8a14" stroke-width="1.25" stroke-linejoin="miter"/>
<path d="M369 290.3L371.6 294.85L366.4 294.85Z" fill="#fff" stroke="#ff8a14" stroke-width="1.25" stroke-linejoin="miter"/>
<path d="M377 289.8L379.6 294.35L374.4 294.35Z" fill="#fff" stroke="#ff8a14" stroke-width="1.25" stroke-linejoin="miter"/>
<path d="M385 289.8L387.6 294.35L382.4 294.35Z" fill="#fff" stroke="#ff8a14" stroke-width="1.25" stroke-linejoin="miter"/>
<path d="M393 289.8L395.6 294.35L390.4 294.35Z" fill="#fff" stroke="#ff8a14" stroke-width="1.25" stroke-linejoin="miter"/>
<path d="M401 289.8L403.6 294.35L398.4 294.35Z" fill="#fff" stroke="#ff8a14" stroke-width="1.25" stroke-linejoin="miter"/>
<path d="M409 289.8L411.6 294.35L406.4 294.35Z" fill="#fff" stroke="#ff8a14" stroke-width="1.25" stroke-linejoin="miter"/>
<path d="M417 289.8L419.6 294.35L414.4 294.35Z" fill="#fff" stroke="#ff8a14" stroke-width="1.25" stroke-linejoin="miter"/>
<path d="M425 289.8L427.6 294.35L422.4 294.35Z" fill="#fff" stroke="#ff8a14" stroke-width="1.25" stroke-linejoin="miter"/>
<path d="M433 289.8L435.6 294.35L430.4 294.35Z" fill="#fff" stroke="#ff8a14" stroke-width="1.25" stroke-linejoin="miter"/>
<path d="M353.2 203.9H373.9" stroke="#ff1f96" stroke-width="0.9"/>
<rect x="361.55" y="201.9" width="4" height="4" fill="#fff" stroke="#ff1f96" stroke-width="1.25"/>
<text x="376.7" y="207.1" font-size="9.0" text-anchor="start" font-weight="normal" fill="#000" >external meshing</text>
<path d="M353.2 214.9H373.9" stroke="#ff8a14" stroke-width="0.9"/>
<path d="M363.55 211.9L366.15 216.45L360.95 216.45Z" fill="#fff" stroke="#ff8a14" stroke-width="1.25" stroke-linejoin="miter"/>
<text x="376.7" y="217.8" font-size="9.0" text-anchor="start" font-weight="normal" fill="#000" >internal meshing</text>
<text x="369" y="336" font-size="11.05" text-anchor="middle" font-weight="normal" fill="#000" >Meshing stiffness (N/m)</text>
<text transform="translate(266.4 252.4) rotate(-90)" x="0" y="0" font-size="10.7" text-anchor="middle" fill="#000">Load sharing coefficient</text>
<text x="440.6" y="335.7" font-size="7.8" fill="#000">×10<tspan font-size="4.68" dy="-2.81">9</tspan></text>
<text x="356.7" y="357.6" font-size="10.5" text-anchor="middle" font-weight="bold" fill="#111" >(d)</text>
<path d="M35.5 365.5V499.8H206.5" fill="none" stroke="#3c3c3c" stroke-width="1"/>
<path d="M33 499.9H35.5M33 477.57H35.5M33 455.23H35.5M33 432.9H35.5M33 410.57H35.5M33 388.23H35.5M33 365.9H35.5M34 488.73H35.5M34 466.4H35.5M34 444.07H35.5M34 421.73H35.5M34 399.4H35.5M34 377.07H35.5M46.8 499.8V502.3M69.61 499.8V502.3M92.43 499.8V502.3M115.24 499.8V502.3M138.06 499.8V502.3M160.87 499.8V502.3M183.69 499.8V502.3M206.5 499.8V502.3M58.21 499.8V501.3M81.02 499.8V501.3M103.84 499.8V501.3M126.65 499.8V501.3M149.46 499.8V501.3M172.28 499.8V501.3M195.09 499.8V501.3M35.39 499.8V501.3" fill="none" stroke="#3c3c3c" stroke-width="0.9"/>
<text x="30.3" y="502.72" font-size="8.3" text-anchor="end" font-weight="normal" fill="#000" >1.00</text>
<text x="30.3" y="480.39" font-size="8.3" text-anchor="end" font-weight="normal" fill="#000" >1.01</text>
<text x="30.3" y="458.06" font-size="8.3" text-anchor="end" font-weight="normal" fill="#000" >1.02</text>
<text x="30.3" y="435.72" font-size="8.3" text-anchor="end" font-weight="normal" fill="#000" >1.03</text>
<text x="30.3" y="413.39" font-size="8.3" text-anchor="end" font-weight="normal" fill="#000" >1.04</text>
<text x="30.3" y="391.06" font-size="8.3" text-anchor="end" font-weight="normal" fill="#000" >1.05</text>
<text x="30.3" y="368.72" font-size="8.3" text-anchor="end" font-weight="normal" fill="#000" >1.06</text>
<text x="46.8" y="510.6" font-size="8.3" text-anchor="middle" font-weight="normal" fill="#000" >1.0</text>
<text x="69.61" y="510.6" font-size="8.3" text-anchor="middle" font-weight="normal" fill="#000" >1.5</text>
<text x="92.43" y="510.6" font-size="8.3" text-anchor="middle" font-weight="normal" fill="#000" >2.0</text>
<text x="115.24" y="510.6" font-size="8.3" text-anchor="middle" font-weight="normal" fill="#000" >2.5</text>
<text x="138.06" y="510.6" font-size="8.3" text-anchor="middle" font-weight="normal" fill="#000" >3.0</text>
<text x="160.87" y="510.6" font-size="8.3" text-anchor="middle" font-weight="normal" fill="#000" >3.5</text>
<text x="183.69" y="510.6" font-size="8.3" text-anchor="middle" font-weight="normal" fill="#000" >4.0</text>
<text x="206.5" y="510.6" font-size="8.3" text-anchor="middle" font-weight="normal" fill="#000" >4.5</text>
<path d="M47.5 471.05L48.26 470.3L49.03 469.54L49.79 468.77L50.56 467.99L51.32 467.18L52.08 466.35L52.85 465.49L53.61 464.6L54.38 463.66L55.14 462.68L55.9 461.64L56.67 460.55L57.43 459.39L58.2 458.14L58.96 456.76L59.72 455.22L60.49 453.48L61.25 451.52L62.02 449.29L62.78 446.77L63.55 443.91L64.31 440.7L65.07 437.09L65.84 433.05L66.6 428.57L67.37 423.75L68.13 418.69L68.89 413.52L69.66 408.35L70.42 403.29L71.19 398.47L71.95 393.99L72.71 389.97L73.48 386.53L74.24 383.79L75.01 381.85L75.77 380.81L76.53 380.61L77.3 381.17L78.06 382.43L78.83 384.3L79.59 386.7L80.35 389.55L81.12 392.77L81.88 396.3L82.65 400.04L83.41 403.91L84.17 407.85L84.94 411.78L85.7 415.66L86.47 419.49L87.23 423.22L88 426.84L88.76 430.33L89.52 433.66L90.29 436.81L91.05 439.76L91.82 442.48L92.58 444.95L93.34 447.15L94.11 449.06L94.87 450.7L95.64 452.1L96.4 453.29L97.16 454.28L97.93 455.12L98.69 455.82L99.46 456.41L100.22 456.92L100.98 457.38L101.75 457.82L102.51 458.25L103.28 458.71L104.04 459.19L104.8 459.68L105.57 460.19L106.33 460.72L107.1 461.24L107.86 461.77L108.62 462.29L109.39 462.8L110.15 463.31L110.92 463.79L111.68 464.25L112.45 464.69L113.21 465.1L113.97 465.48L114.74 465.84L115.5 466.18L116.27 466.49L117.03 466.78L117.79 467.06L118.56 467.31L119.32 467.54L120.09 467.75L120.85 467.95L121.61 468.13L122.38 468.29L123.14 468.45L123.91 468.59L124.67 468.72L125.43 468.85L126.2 468.98L126.96 469.11L127.73 469.23L128.49 469.37L129.25 469.5L130.02 469.65L130.78 469.81L131.55 469.97L132.31 470.14L133.07 470.31L133.84 470.48L134.6 470.65L135.37 470.82L136.13 470.97L136.9 471.11L137.66 471.24L138.42 471.36L139.19 471.45L139.95 471.52L140.72 471.57L141.48 471.61L142.24 471.64L143.01 471.65L143.77 471.66L144.54 471.66L145.3 471.67L146.06 471.68L146.83 471.69L147.59 471.71L148.36 471.75L149.12 471.8L149.88 471.86L150.65 471.94L151.41 472.02L152.18 472.12L152.94 472.21L153.7 472.31L154.47 472.41L155.23 472.5L156 472.59L156.76 472.68L157.52 472.75L158.29 472.81L159.05 472.87L159.82 472.91L160.58 472.95L161.35 472.99L162.11 473.02L162.87 473.05L163.64 473.08L164.4 473.12L165.17 473.16L165.93 473.2L166.69 473.25L167.46 473.31L168.22 473.37L168.99 473.45L169.75 473.52L170.51 473.6L171.28 473.68L172.04 473.75L172.81 473.82L173.57 473.89L174.33 473.95L175.1 474.01L175.86 474.05L176.63 474.08L177.39 474.1L178.15 474.11L178.92 474.12L179.68 474.12L180.45 474.11L181.21 474.1L181.97 474.09L182.74 474.08L183.5 474.07L184.27 474.06L185.03 474.05L185.8 474.05L186.56 474.05L187.32 474.06L188.09 474.07L188.85 474.09L189.62 474.1L190.38 474.13L191.14 474.15L191.91 474.17L192.67 474.2L193.44 474.22L194.2 474.25" fill="none" stroke="#b01e1e" stroke-width="1.0" stroke-linejoin="round"/>
<path d="M44.8 469.5L50.2 469.5L47.5 474.15Z" fill="#fff" stroke="#b01e1e" stroke-width="1.25" stroke-linejoin="miter"/>
<path d="M53.97 459L59.37 459L56.67 463.65Z" fill="#fff" stroke="#b01e1e" stroke-width="1.25" stroke-linejoin="miter"/>
<path d="M63.14 431.5L68.54 431.5L65.84 436.15Z" fill="#fff" stroke="#b01e1e" stroke-width="1.25" stroke-linejoin="miter"/>
<path d="M72.31 380.3L77.71 380.3L75.01 384.95Z" fill="#fff" stroke="#b01e1e" stroke-width="1.25" stroke-linejoin="miter"/>
<path d="M81.47 406.3L86.88 406.3L84.17 410.95Z" fill="#fff" stroke="#b01e1e" stroke-width="1.25" stroke-linejoin="miter"/>
<path d="M90.64 445.6L96.04 445.6L93.34 450.25Z" fill="#fff" stroke="#b01e1e" stroke-width="1.25" stroke-linejoin="miter"/>
<path d="M99.81 456.7L105.21 456.7L102.51 461.35Z" fill="#fff" stroke="#b01e1e" stroke-width="1.25" stroke-linejoin="miter"/>
<path d="M108.98 462.7L114.38 462.7L111.68 467.35Z" fill="#fff" stroke="#b01e1e" stroke-width="1.25" stroke-linejoin="miter"/>
<path d="M118.15 466.4L123.55 466.4L120.85 471.05Z" fill="#fff" stroke="#b01e1e" stroke-width="1.25" stroke-linejoin="miter"/>
<path d="M127.32 468.1L132.72 468.1L130.02 472.75Z" fill="#fff" stroke="#b01e1e" stroke-width="1.25" stroke-linejoin="miter"/>
<path d="M136.49 469.9L141.89 469.9L139.19 474.55Z" fill="#fff" stroke="#b01e1e" stroke-width="1.25" stroke-linejoin="miter"/>
<path d="M145.66 470.2L151.06 470.2L148.36 474.85Z" fill="#fff" stroke="#b01e1e" stroke-width="1.25" stroke-linejoin="miter"/>
<path d="M154.82 471.2L160.22 471.2L157.52 475.85Z" fill="#fff" stroke="#b01e1e" stroke-width="1.25" stroke-linejoin="miter"/>
<path d="M163.99 471.7L169.39 471.7L166.69 476.35Z" fill="#fff" stroke="#b01e1e" stroke-width="1.25" stroke-linejoin="miter"/>
<path d="M173.16 472.5L178.56 472.5L175.86 477.15Z" fill="#fff" stroke="#b01e1e" stroke-width="1.25" stroke-linejoin="miter"/>
<path d="M182.33 472.5L187.73 472.5L185.03 477.15Z" fill="#fff" stroke="#b01e1e" stroke-width="1.25" stroke-linejoin="miter"/>
<path d="M191.5 472.7L196.9 472.7L194.2 477.35Z" fill="#fff" stroke="#b01e1e" stroke-width="1.25" stroke-linejoin="miter"/>
<path d="M47.5 481L48.26 480.82L49.03 480.64L49.79 480.46L50.56 480.3L51.32 480.16L52.08 480.03L52.85 479.93L53.61 479.85L54.38 479.81L55.14 479.8L55.9 479.83L56.67 479.9L57.43 480.01L58.2 480.14L58.96 480.25L59.72 480.31L60.49 480.28L61.25 480.14L62.02 479.84L62.78 479.37L63.55 478.68L64.31 477.74L65.07 476.53L65.84 475L66.6 473.15L67.37 471.03L68.13 468.72L68.89 466.32L69.66 463.89L70.42 461.52L71.19 459.28L71.95 457.27L72.71 455.55L73.48 454.21L74.24 453.34L75.01 453L75.77 453.26L76.53 454.06L77.3 455.32L78.06 456.97L78.83 458.93L79.59 461.12L80.35 463.46L81.12 465.88L81.88 468.29L82.65 470.61L83.41 472.78L84.17 474.7L84.94 476.32L85.7 477.66L86.47 478.74L87.23 479.59L88 480.24L88.76 480.72L89.52 481.06L90.29 481.29L91.05 481.44L91.82 481.54L92.58 481.61L93.34 481.7L94.11 481.82L94.87 481.97L95.64 482.15L96.4 482.35L97.16 482.56L97.93 482.79L98.69 483.02L99.46 483.26L100.22 483.49L100.98 483.71L101.75 483.91L102.51 484.1L103.28 484.26L104.04 484.4L104.8 484.51L105.57 484.61L106.33 484.69L107.1 484.76L107.86 484.82L108.62 484.86L109.39 484.9L110.15 484.94L110.92 484.97L111.68 485L112.45 485.03L113.21 485.07L113.97 485.11L114.74 485.15L115.5 485.2L116.27 485.25L117.03 485.3L117.79 485.35L118.56 485.41L119.32 485.47L120.09 485.53L120.85 485.6L121.61 485.67L122.38 485.74L123.14 485.82L123.91 485.89L124.67 485.97L125.43 486.04L126.2 486.11L126.96 486.18L127.73 486.24L128.49 486.3L129.25 486.35L130.02 486.4L130.78 486.44L131.55 486.47L132.31 486.49L133.07 486.51L133.84 486.52L134.6 486.53L135.37 486.53L136.13 486.53L136.9 486.52L137.66 486.52L138.42 486.51L139.19 486.5L139.95 486.49L140.72 486.48L141.48 486.47L142.24 486.46L143.01 486.46L143.77 486.45L144.54 486.45L145.3 486.45L146.06 486.46L146.83 486.47L147.59 486.48L148.36 486.5L149.12 486.52L149.88 486.55L150.65 486.58L151.41 486.62L152.18 486.65L152.94 486.68L153.7 486.71L154.47 486.74L155.23 486.77L156 486.78L156.76 486.8L157.52 486.8L158.29 486.8L159.05 486.78L159.82 486.76L160.58 486.74L161.35 486.71L162.11 486.68L162.87 486.65L163.64 486.61L164.4 486.58L165.17 486.55L165.93 486.52L166.69 486.5L167.46 486.48L168.22 486.47L168.99 486.46L169.75 486.46L170.51 486.46L171.28 486.46L172.04 486.47L172.81 486.47L173.57 486.48L174.33 486.49L175.1 486.49L175.86 486.5L176.63 486.5L177.39 486.51L178.15 486.51L178.92 486.51L179.68 486.51L180.45 486.51L181.21 486.51L181.97 486.51L182.74 486.51L183.5 486.5L184.27 486.5L185.03 486.5L185.8 486.5L186.56 486.5L187.32 486.5L188.09 486.5L188.85 486.5L189.62 486.5L190.38 486.5L191.14 486.5L191.91 486.5L192.67 486.5L193.44 486.5L194.2 486.5" fill="none" stroke="#9a1cff" stroke-width="1.0" stroke-linejoin="round"/>
<path d="M47.5 478.65L49.97 480.45L49.03 483.35L45.97 483.35L45.03 480.45Z" fill="#fff" stroke="#9a1cff" stroke-width="1.25"/>
<path d="M56.67 477.55L59.14 479.35L58.2 482.25L55.14 482.25L54.2 479.35Z" fill="#fff" stroke="#9a1cff" stroke-width="1.25"/>
<path d="M65.84 472.65L68.31 474.45L67.37 477.35L64.31 477.35L63.36 474.45Z" fill="#fff" stroke="#9a1cff" stroke-width="1.25"/>
<path d="M75.01 450.65L77.48 452.45L76.53 455.35L73.48 455.35L72.53 452.45Z" fill="#fff" stroke="#9a1cff" stroke-width="1.25"/>
<path d="M84.17 472.35L86.65 474.15L85.7 477.05L82.65 477.05L81.7 474.15Z" fill="#fff" stroke="#9a1cff" stroke-width="1.25"/>
<path d="M93.34 479.35L95.82 481.15L94.87 484.05L91.82 484.05L90.87 481.15Z" fill="#fff" stroke="#9a1cff" stroke-width="1.25"/>
<path d="M102.51 481.75L104.99 483.55L104.04 486.45L100.98 486.45L100.04 483.55Z" fill="#fff" stroke="#9a1cff" stroke-width="1.25"/>
<path d="M111.68 482.65L114.15 484.45L113.21 487.35L110.15 487.35L109.21 484.45Z" fill="#fff" stroke="#9a1cff" stroke-width="1.25"/>
<path d="M120.85 483.25L123.32 485.05L122.38 487.95L119.32 487.95L118.38 485.05Z" fill="#fff" stroke="#9a1cff" stroke-width="1.25"/>
<path d="M130.02 484.05L132.49 485.85L131.55 488.75L128.49 488.75L127.55 485.85Z" fill="#fff" stroke="#9a1cff" stroke-width="1.25"/>
<path d="M139.19 484.15L141.66 485.95L140.72 488.85L137.66 488.85L136.71 485.95Z" fill="#fff" stroke="#9a1cff" stroke-width="1.25"/>
<path d="M148.36 484.15L150.83 485.95L149.88 488.85L146.83 488.85L145.88 485.95Z" fill="#fff" stroke="#9a1cff" stroke-width="1.25"/>
<path d="M157.52 484.45L160 486.25L159.05 489.15L156 489.15L155.05 486.25Z" fill="#fff" stroke="#9a1cff" stroke-width="1.25"/>
<path d="M166.69 484.15L169.17 485.95L168.22 488.85L165.17 488.85L164.22 485.95Z" fill="#fff" stroke="#9a1cff" stroke-width="1.25"/>
<path d="M175.86 484.15L178.34 485.95L177.39 488.85L174.33 488.85L173.39 485.95Z" fill="#fff" stroke="#9a1cff" stroke-width="1.25"/>
<path d="M185.03 484.15L187.5 485.95L186.56 488.85L183.5 488.85L182.56 485.95Z" fill="#fff" stroke="#9a1cff" stroke-width="1.25"/>
<path d="M194.2 484.15L196.67 485.95L195.73 488.85L192.67 488.85L191.73 485.95Z" fill="#fff" stroke="#9a1cff" stroke-width="1.25"/>
<path d="M109.7 384.9H131.7" stroke="#b01e1e" stroke-width="0.9"/>
<path d="M118 383.35L123.4 383.35L120.7 388Z" fill="#fff" stroke="#b01e1e" stroke-width="1.25" stroke-linejoin="miter"/>
<text x="134.5" y="388.1" font-size="9.75" text-anchor="start" font-weight="normal" fill="#000" >external meshing</text>
<path d="M109.7 396.6H131.7" stroke="#9a1cff" stroke-width="0.9"/>
<path d="M120.7 394.25L123.17 396.05L122.23 398.95L119.17 398.95L118.23 396.05Z" fill="#fff" stroke="#9a1cff" stroke-width="1.25"/>
<text x="134.5" y="399.8" font-size="9.75" text-anchor="start" font-weight="normal" fill="#000" >internal meshing</text>
<text x="121.1" y="524.7" font-size="11.6" text-anchor="middle" font-weight="normal" fill="#000" >Meshing stiffness (N/m)</text>
<text transform="translate(11.9 432.6) rotate(-90)" x="0" y="0" font-size="11.35" text-anchor="middle" fill="#000">Load sharing coefficient</text>
<text x="197.4" y="522.9" font-size="8.5" fill="#000">×10<tspan font-size="5.1" dy="-3.06">9</tspan></text>
<text x="107.6" y="546" font-size="10.5" text-anchor="middle" font-weight="bold" fill="#111" >(e)</text>
<path d="M285.6 360.6V502.5H462.5" fill="none" stroke="#3c3c3c" stroke-width="1"/>
<path d="M283.1 494.1H285.6M283.1 478.41H285.6M283.1 462.73H285.6M283.1 447.04H285.6M283.1 431.35H285.6M283.1 415.66H285.6M283.1 399.98H285.6M283.1 384.29H285.6M283.1 368.6H285.6M284.1 486.26H285.6M284.1 470.57H285.6M284.1 454.88H285.6M284.1 439.19H285.6M284.1 423.51H285.6M284.1 407.82H285.6M284.1 392.13H285.6M284.1 376.44H285.6M284.1 360.76H285.6M303.6 502.5V505M338.9 502.5V505M374.2 502.5V505M409.5 502.5V505M444.8 502.5V505M321.25 502.5V504M356.55 502.5V504M391.85 502.5V504M427.15 502.5V504M462.45 502.5V504M285.95 502.5V504" fill="none" stroke="#3c3c3c" stroke-width="0.9"/>
<text x="281.5" y="496.89" font-size="8.2" text-anchor="end" font-weight="normal" fill="#000" >1.00</text>
<text x="281.5" y="481.2" font-size="8.2" text-anchor="end" font-weight="normal" fill="#000" >1.01</text>
<text x="281.5" y="465.51" font-size="8.2" text-anchor="end" font-weight="normal" fill="#000" >1.02</text>
<text x="281.5" y="449.83" font-size="8.2" text-anchor="end" font-weight="normal" fill="#000" >1.03</text>
<text x="281.5" y="434.14" font-size="8.2" text-anchor="end" font-weight="normal" fill="#000" >1.04</text>
<text x="281.5" y="418.45" font-size="8.2" text-anchor="end" font-weight="normal" fill="#000" >1.05</text>
<text x="281.5" y="402.76" font-size="8.2" text-anchor="end" font-weight="normal" fill="#000" >1.06</text>
<text x="281.5" y="387.08" font-size="8.2" text-anchor="end" font-weight="normal" fill="#000" >1.07</text>
<text x="281.5" y="371.39" font-size="8.2" text-anchor="end" font-weight="normal" fill="#000" >1.08</text>
<text x="303.6" y="512.5" font-size="8.2" text-anchor="middle" font-weight="normal" fill="#000" >2.5</text>
<text x="338.9" y="512.5" font-size="8.2" text-anchor="middle" font-weight="normal" fill="#000" >3.0</text>
<text x="374.2" y="512.5" font-size="8.2" text-anchor="middle" font-weight="normal" fill="#000" >3.5</text>
<text x="409.5" y="512.5" font-size="8.2" text-anchor="middle" font-weight="normal" fill="#000" >4.0</text>
<text x="444.8" y="512.5" font-size="8.2" text-anchor="middle" font-weight="normal" fill="#000" >4.5</text>
<path d="M303.8 461.85L304.99 460.43L306.17 458.98L307.36 457.5L308.54 455.97L309.73 454.36L310.91 452.65L312.1 450.84L313.28 448.9L314.47 446.8L315.65 444.54L316.84 442.1L318.02 439.45L319.21 436.59L320.39 433.52L321.58 430.27L322.76 426.86L323.95 423.32L325.13 419.65L326.31 415.89L327.5 412.05L328.69 408.16L329.87 404.23L331.06 400.29L332.24 396.35L333.43 392.45L334.61 388.66L335.8 385.06L336.98 381.73L338.17 378.74L339.35 376.18L340.54 374.14L341.72 372.68L342.91 371.89L344.09 371.85L345.28 372.65L346.46 374.35L347.65 377.01L348.83 380.52L350.02 384.76L351.2 389.58L352.39 394.85L353.57 400.44L354.75 406.21L355.94 412.02L357.12 417.75L358.31 423.25L359.5 428.4L360.68 433.05L361.87 437.11L363.05 440.59L364.24 443.55L365.42 446.05L366.61 448.15L367.79 449.89L368.97 451.32L370.16 452.52L371.34 453.52L372.53 454.39L373.71 455.18L374.9 455.95L376.08 456.73L377.27 457.54L378.45 458.37L379.64 459.2L380.82 460.05L382.01 460.89L383.19 461.72L384.38 462.54L385.56 463.34L386.75 464.11L387.94 464.85L389.12 465.55L390.31 466.21L391.49 466.82L392.68 467.4L393.86 467.94L395.05 468.45L396.23 468.92L397.42 469.37L398.6 469.79L399.79 470.18L400.97 470.56L402.16 470.91L403.34 471.25L404.53 471.58L405.71 471.89L406.89 472.19L408.08 472.48L409.26 472.76L410.45 473.04L411.63 473.3L412.82 473.56L414 473.82L415.19 474.06L416.37 474.31L417.56 474.55L418.74 474.79L419.93 475.03L421.11 475.26L422.3 475.49L423.48 475.71L424.67 475.93L425.85 476.14L427.04 476.34L428.22 476.53L429.41 476.71L430.59 476.89L431.78 477.05L432.96 477.2L434.15 477.34L435.33 477.47L436.52 477.59L437.7 477.7L438.89 477.81L440.07 477.91L441.26 478L442.44 478.09L443.63 478.18L444.81 478.27L446 478.35" fill="none" stroke="#b01e1e" stroke-width="1.0" stroke-linejoin="round"/>
<path d="M301.1 460.3L306.5 460.3L303.8 464.95Z" fill="#fff" stroke="#b01e1e" stroke-width="1.25" stroke-linejoin="miter"/>
<path d="M315.32 437.9L320.72 437.9L318.02 442.55Z" fill="#fff" stroke="#b01e1e" stroke-width="1.25" stroke-linejoin="miter"/>
<path d="M329.54 394.8L334.94 394.8L332.24 399.45Z" fill="#fff" stroke="#b01e1e" stroke-width="1.25" stroke-linejoin="miter"/>
<path d="M343.76 372.8L349.16 372.8L346.46 377.45Z" fill="#fff" stroke="#b01e1e" stroke-width="1.25" stroke-linejoin="miter"/>
<path d="M357.98 431.5L363.38 431.5L360.68 436.15Z" fill="#fff" stroke="#b01e1e" stroke-width="1.25" stroke-linejoin="miter"/>
<path d="M372.2 454.4L377.6 454.4L374.9 459.05Z" fill="#fff" stroke="#b01e1e" stroke-width="1.25" stroke-linejoin="miter"/>
<path d="M386.42 464L391.82 464L389.12 468.65Z" fill="#fff" stroke="#b01e1e" stroke-width="1.25" stroke-linejoin="miter"/>
<path d="M400.64 469.7L406.04 469.7L403.34 474.35Z" fill="#fff" stroke="#b01e1e" stroke-width="1.25" stroke-linejoin="miter"/>
<path d="M414.86 473L420.26 473L417.56 477.65Z" fill="#fff" stroke="#b01e1e" stroke-width="1.25" stroke-linejoin="miter"/>
<path d="M429.08 475.5L434.48 475.5L431.78 480.15Z" fill="#fff" stroke="#b01e1e" stroke-width="1.25" stroke-linejoin="miter"/>
<path d="M443.3 476.8L448.7 476.8L446 481.45Z" fill="#fff" stroke="#b01e1e" stroke-width="1.25" stroke-linejoin="miter"/>
<path d="M303.8 488.9L304.99 488.92L306.17 488.93L307.36 488.9L308.54 488.84L309.73 488.71L310.91 488.52L312.1 488.23L313.28 487.85L314.47 487.35L315.65 486.71L316.84 485.94L318.02 485L319.21 483.89L320.39 482.64L321.58 481.24L322.76 479.74L323.95 478.15L325.13 476.48L326.31 474.77L327.5 473.03L328.69 471.28L329.87 469.55L331.06 467.85L332.24 466.2L333.43 464.63L334.61 463.16L335.8 461.81L336.98 460.61L338.17 459.58L339.35 458.73L340.54 458.11L341.72 457.72L342.91 457.59L344.09 457.74L345.28 458.21L346.46 459L347.65 460.13L348.83 461.57L350.02 463.25L351.2 465.13L352.39 467.15L353.57 469.26L354.75 471.4L355.94 473.53L357.12 475.58L358.31 477.52L359.5 479.27L360.68 480.8L361.87 482.06L363.05 483.06L364.24 483.83L365.42 484.41L366.61 484.8L367.79 485.06L368.97 485.19L370.16 485.23L371.34 485.2L372.53 485.14L373.71 485.06L374.9 485L376.08 484.98L377.27 484.99L378.45 485.04L379.64 485.12L380.82 485.22L382.01 485.34L383.19 485.48L384.38 485.62L385.56 485.77L386.75 485.92L387.94 486.06L389.12 486.2L390.31 486.32L391.49 486.43L392.68 486.53L393.86 486.62L395.05 486.7L396.23 486.77L397.42 486.83L398.6 486.89L399.79 486.95L400.97 487L402.16 487.05L403.34 487.1L404.53 487.15L405.71 487.2L406.89 487.25L408.08 487.3L409.26 487.35L410.45 487.41L411.63 487.46L412.82 487.51L414 487.56L415.19 487.61L416.37 487.65L417.56 487.7L418.74 487.75L419.93 487.79L421.11 487.83L422.3 487.87L423.48 487.91L424.67 487.95L425.85 487.98L427.04 488.01L428.22 488.04L429.41 488.06L430.59 488.08L431.78 488.1L432.96 488.11L434.15 488.12L435.33 488.13L436.52 488.13L437.7 488.14L438.89 488.13L440.07 488.13L441.26 488.13L442.44 488.12L443.63 488.11L444.81 488.11L446 488.1" fill="none" stroke="#9a1cff" stroke-width="1.0" stroke-linejoin="round"/>
<path d="M303.8 486.55L306.27 488.35L305.33 491.25L302.27 491.25L301.33 488.35Z" fill="#fff" stroke="#9a1cff" stroke-width="1.25"/>
<path d="M318.02 482.65L320.49 484.45L319.55 487.35L316.49 487.35L315.55 484.45Z" fill="#fff" stroke="#9a1cff" stroke-width="1.25"/>
<path d="M332.24 463.85L334.71 465.65L333.77 468.55L330.71 468.55L329.77 465.65Z" fill="#fff" stroke="#9a1cff" stroke-width="1.25"/>
<path d="M346.46 456.65L348.93 458.45L347.99 461.35L344.93 461.35L343.99 458.45Z" fill="#fff" stroke="#9a1cff" stroke-width="1.25"/>
<path d="M360.68 478.45L363.15 480.25L362.21 483.15L359.15 483.15L358.21 480.25Z" fill="#fff" stroke="#9a1cff" stroke-width="1.25"/>
<path d="M374.9 482.65L377.37 484.45L376.43 487.35L373.37 487.35L372.43 484.45Z" fill="#fff" stroke="#9a1cff" stroke-width="1.25"/>
<path d="M389.12 483.85L391.59 485.65L390.65 488.55L387.59 488.55L386.65 485.65Z" fill="#fff" stroke="#9a1cff" stroke-width="1.25"/>
<path d="M403.34 484.75L405.81 486.55L404.87 489.45L401.81 489.45L400.87 486.55Z" fill="#fff" stroke="#9a1cff" stroke-width="1.25"/>
<path d="M417.56 485.35L420.03 487.15L419.09 490.05L416.03 490.05L415.09 487.15Z" fill="#fff" stroke="#9a1cff" stroke-width="1.25"/>
<path d="M431.78 485.75L434.25 487.55L433.31 490.45L430.25 490.45L429.31 487.55Z" fill="#fff" stroke="#9a1cff" stroke-width="1.25"/>
<path d="M446 485.75L448.47 487.55L447.53 490.45L444.47 490.45L443.53 487.55Z" fill="#fff" stroke="#9a1cff" stroke-width="1.25"/>
<path d="M369.5 380.6H389.7" stroke="#b01e1e" stroke-width="0.9"/>
<path d="M376.9 379.05L382.3 379.05L379.6 383.7Z" fill="#fff" stroke="#b01e1e" stroke-width="1.25" stroke-linejoin="miter"/>
<text x="392.4" y="383.8" font-size="9.0" text-anchor="start" font-weight="normal" fill="#000" >external meshing</text>
<path d="M369.5 391.5H389.7" stroke="#9a1cff" stroke-width="0.9"/>
<path d="M379.6 389.15L382.07 390.95L381.13 393.85L378.07 393.85L377.13 390.95Z" fill="#fff" stroke="#9a1cff" stroke-width="1.25"/>
<text x="392.4" y="394.3" font-size="9.0" text-anchor="start" font-weight="normal" fill="#000" >internal meshing</text>
<text x="374.25" y="523.5" font-size="10.8" text-anchor="middle" font-weight="normal" fill="#000" >Meshing stiffness (N/m)</text>
<text transform="translate(263 430.9) rotate(-90)" x="0" y="0" font-size="10.7" text-anchor="middle" fill="#000">Load sharing coefficient</text>
<text x="436.4" y="521.8" font-size="8.0" fill="#000">×10<tspan font-size="4.8" dy="-2.88">9</tspan></text>
<text x="356.8" y="546" font-size="10.5" text-anchor="middle" font-weight="bold" fill="#111" >(f)</text>
</svg>
</body></html>
